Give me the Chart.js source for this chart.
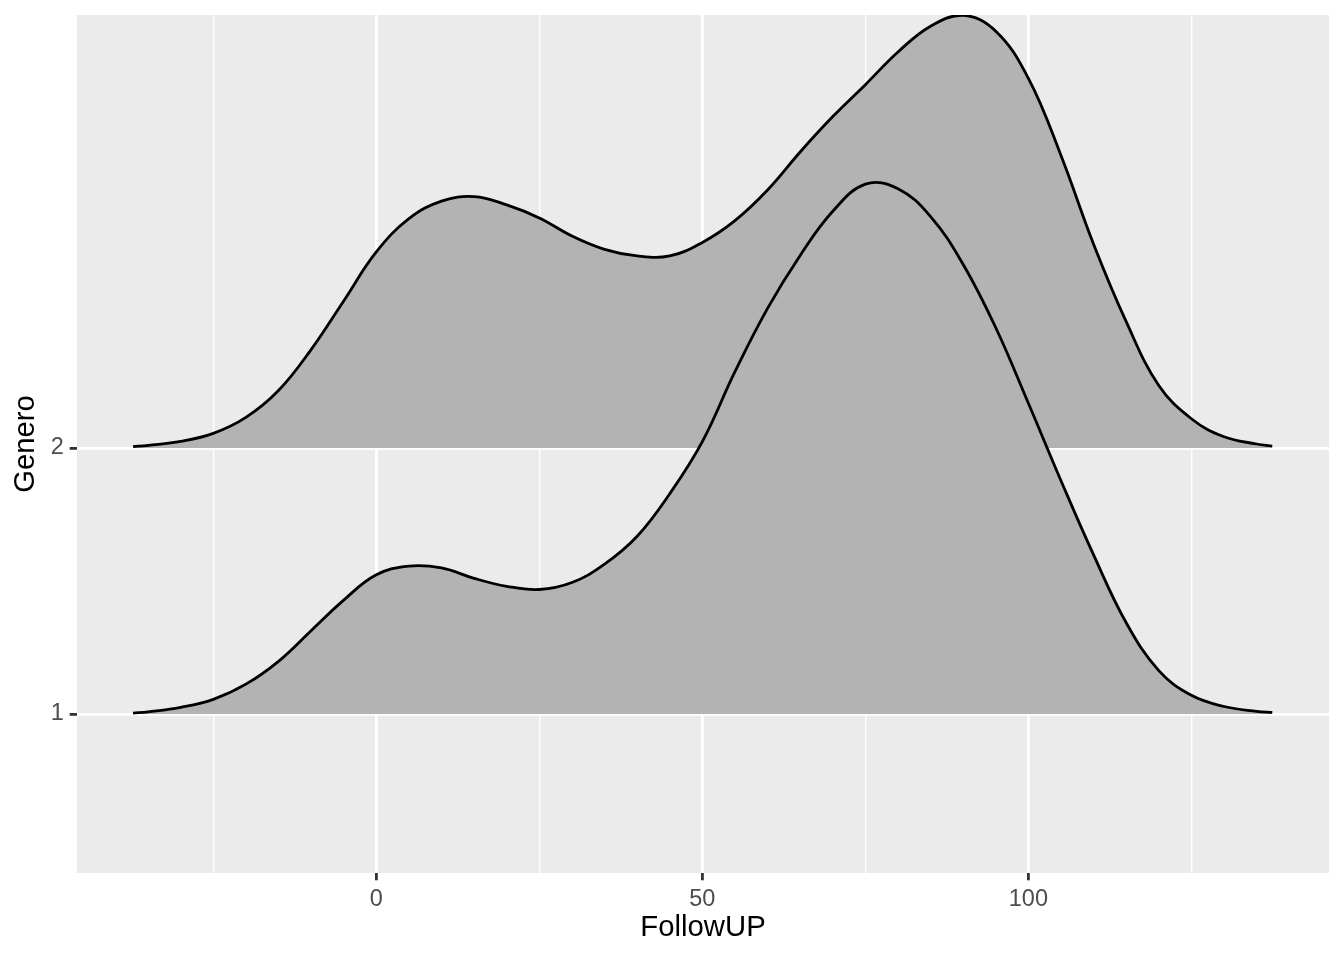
<!DOCTYPE html>
<html>
<head>
<meta charset="utf-8">
<title>FollowUP by Genero</title>
<script src="https://cdn.jsdelivr.net/npm/chart.js@4"></script>
<style>
  html, body { margin: 0; padding: 0; background: #ffffff; }
  #wrap { width: 1344px; height: 960px; }
</style>
</head>
<body>
<div id="wrap"><canvas id="ridgeChart" width="1344" height="960"></canvas></div>
<script>
  //-------------
  //- DATA -
  //-------------
  // FollowUP positions where the density curves were read
  var followUp = [-37.3, -35, -30, -25, -20, -15, -10, -5, 0, 5, 10, 15, 20, 25, 30, 35, 40, 45, 50,
    55, 60, 65, 70, 75, 80, 85, 90, 95, 100, 105, 110, 115, 120, 125, 130, 135, 137.4];

  // ridge heights above each baseline (in units of category spacing)
  var genero1 = [0.003, 0.008, 0.025, 0.055, 0.112, 0.198, 0.313, 0.428, 0.523, 0.556, 0.549, 0.510, 0.480,
    0.468, 0.494, 0.563, 0.668, 0.828, 1.024, 1.287, 1.525, 1.724, 1.890, 1.992, 1.975, 1.870, 1.690, 1.452,
    1.168, 0.877, 0.598, 0.343, 0.163, 0.070, 0.028, 0.010, 0.006];
  var genero2 = [0.005, 0.010, 0.025, 0.055, 0.115, 0.216, 0.370, 0.553, 0.737, 0.862, 0.928, 0.945, 0.914,
    0.865, 0.797, 0.747, 0.722, 0.722, 0.773, 0.855, 0.970, 1.113, 1.246, 1.366, 1.489, 1.586, 1.627, 1.567,
    1.390, 1.100, 0.766, 0.475, 0.235, 0.110, 0.042, 0.015, 0.007];

  var generoLevels = [1, 2];
  var xTicks = [-25, 0, 25, 50, 75, 100, 125];

  //-------------
  //- HELPERS -
  //-------------
  function ridgePoints(heights, baseline) {
    var pts = [];
    for (var i = 0; i < followUp.length; i++) {
      pts.push({ x: followUp[i], y: baseline + heights[i] });
    }
    return pts;
  }

  var panelBackground = {
    id: 'panelBackground',
    beforeDraw: function(chart) {
      var a = chart.chartArea;
      var ctx = chart.ctx;
      ctx.save();
      ctx.fillStyle = '#ebebeb';
      ctx.fillRect(a.left, a.top, a.right - a.left, a.bottom - a.top);
      ctx.restore();
    }
  };

  var fontFamily = "'Liberation Sans', Arial, Helvetica, sans-serif";

  function ridgeDataset(heights, baseline) {
    return {
      data: ridgePoints(heights, baseline),
      borderColor: '#000000',
      borderWidth: 2.8,
      backgroundColor: '#b3b3b3',
      fill: { value: baseline },
      pointRadius: 0,
      tension: 0.4,
      clip: 0
    };
  }

  //-------------
  //- RIDGE CHART -
  //-------------
  var ctx = document.getElementById('ridgeChart').getContext('2d');
  new Chart(ctx, {
    type: 'line',
    data: {
      // first dataset is drawn on top, so Genero 1 sits in front of Genero 2
      datasets: [
        ridgeDataset(genero1, generoLevels[0]),
        ridgeDataset(genero2, generoLevels[1])
      ]
    },
    options: {
      responsive: false,
      devicePixelRatio: 1,
      animation: false,
      layout: { padding: { top: 15, right: 15, left: 0, bottom: 0 } },
      plugins: {
        legend: { display: false },
        tooltip: { enabled: false }
      },
      scales: {
        x: {
          type: 'linear',
          min: -45.9,
          max: 146.1,
          afterBuildTicks: function(scale) {
            scale.ticks = xTicks.map(function(v) { return { value: v }; });
          },
          afterFit: function(scale) {
            scale.height = 87;
            scale.paddingLeft = 0;
            scale.paddingRight = 0;
          },
          border: { display: false },
          grid: {
            color: '#ffffff',
            lineWidth: function(c) { return c.tick && c.tick.value % 50 === 0 ? 2.8 : 1.4; },
            tickColor: function(c) { return c.tick && c.tick.value % 50 === 0 ? '#333333' : 'rgba(0,0,0,0)'; },
            tickWidth: 2.8,
            tickLength: 7.3
          },
          ticks: {
            padding: 5,
            maxRotation: 0,
            autoSkip: false,
            color: '#4d4d4d',
            font: { family: fontFamily, size: 23.5 },
            callback: function(value) { return value % 50 === 0 ? String(value) : ''; }
          },
          title: {
            display: true,
            text: 'FollowUP',
            color: '#000000',
            font: { family: fontFamily, size: 29.3 },
            padding: { top: 0, bottom: 14.4 }
          }
        },
        y: {
          type: 'linear',
          min: 0.402,
          max: 3.628,
          afterBuildTicks: function(scale) {
            scale.ticks = generoLevels.map(function(v) { return { value: v }; });
          },
          afterFit: function(scale) {
            scale.width = 77;
            scale.paddingTop = 0;
            scale.paddingBottom = 0;
          },
          border: { display: false },
          grid: {
            color: '#ffffff',
            lineWidth: 2.8,
            tickColor: '#333333',
            tickWidth: 2.8,
            tickLength: 7.3
          },
          ticks: {
            padding: 6,
            color: '#4d4d4d',
            font: { family: fontFamily, size: 23.5 },
            callback: function(value) { return String(value); }
          },
          title: {
            display: true,
            text: 'Genero',
            color: '#000000',
            font: { family: fontFamily, size: 29.3 },
            padding: { top: 8.5, bottom: 0 }
          }
        }
      }
    },
    plugins: [panelBackground]
  });
</script>
</body>
</html>
